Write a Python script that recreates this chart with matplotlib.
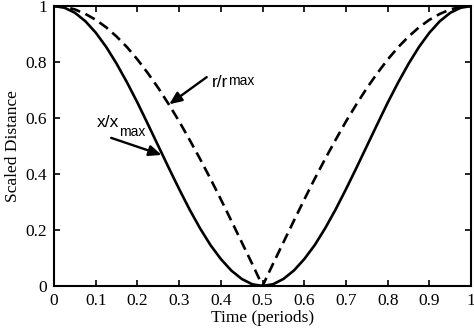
import matplotlib
matplotlib.use('Agg')
import matplotlib.pyplot as plt

# time in periods
t = [0.0, 0.025, 0.05, 0.075, 0.1, 0.125, 0.15, 0.175, 0.2, 0.225, 0.25,
     0.275, 0.3, 0.325, 0.35, 0.375, 0.4, 0.425, 0.45, 0.475, 0.5,
     0.525, 0.55, 0.575, 0.6, 0.625, 0.65, 0.675, 0.7, 0.725, 0.75,
     0.775, 0.8, 0.825, 0.85, 0.875, 0.9, 0.925, 0.95, 0.975, 1.0]

# x/xmax (solid)
x_scaled = [1.0, 0.994, 0.976, 0.946, 0.905, 0.854, 0.794, 0.727, 0.655, 0.578, 0.5,
            0.422, 0.346, 0.273, 0.206, 0.146, 0.096, 0.055, 0.025, 0.006, 0.0,
            0.006, 0.025, 0.055, 0.096, 0.146, 0.206, 0.273, 0.346, 0.422, 0.5,
            0.578, 0.655, 0.727, 0.794, 0.854, 0.905, 0.946, 0.976, 0.994, 1.0]

# r/rmax (dashed)
r_scaled = [1.0, 0.997, 0.988, 0.972, 0.951, 0.924, 0.891, 0.853, 0.809, 0.760, 0.707,
            0.649, 0.588, 0.522, 0.454, 0.383, 0.309, 0.233, 0.156, 0.079, 0.0,
            0.079, 0.156, 0.233, 0.309, 0.383, 0.454, 0.522, 0.588, 0.649, 0.707,
            0.760, 0.809, 0.853, 0.891, 0.924, 0.951, 0.972, 0.988, 0.997, 1.0]

xticks = [0, 0.1, 0.2, 0.3, 0.4, 0.5, 0.6, 0.7, 0.8, 0.9, 1]
xticklabels = ['0', '0.1', '0.2', '0.3', '0.4', '0.5', '0.6', '0.7', '0.8', '0.9', '1']
yticks = [0, 0.2, 0.4, 0.6, 0.8, 1]
yticklabels = ['0', '0.2', '0.4', '0.6', '0.8', '1']

fig = plt.figure(figsize=(4.74, 3.36), dpi=100)
ax = fig.add_axes([0.114, 0.149, 0.880, 0.833])

ax.plot(t, x_scaled, color='black', lw=1.9, solid_capstyle='butt')
ax.plot(t, r_scaled, color='black', lw=1.9, linestyle=(0, (4, 2.2)))

ax.set_xlim(0, 1)
ax.set_ylim(0, 1)
ax.set_xticks(xticks)
ax.set_xticklabels(xticklabels)
ax.set_yticks(yticks)
ax.set_yticklabels(yticklabels)

serif = 'Liberation Serif'
sans = 'Liberation Sans'
for lab in ax.get_xticklabels() + ax.get_yticklabels():
    lab.set_family(serif)
    lab.set_fontsize(12.5)

ax.tick_params(direction='in', length=4, width=1.2, top=True, right=True, pad=5)
for s in ax.spines.values():
    s.set_linewidth(1.5)

ax.set_xlabel('Time (periods)', family=serif, fontsize=12.5, labelpad=1)
ax.set_ylabel('Scaled Distance', family=serif, fontsize=12.5, labelpad=3)

# annotations
arrow = dict(arrowstyle='-|>,head_length=0.75,head_width=0.32', color='black', lw=1.7,
             shrinkA=0, shrinkB=0)
ax.annotate('', xy=(0.276, 0.649), xytext=(0.366, 0.746), arrowprops=arrow)
ax.annotate('', xy=(0.258, 0.468), xytext=(0.137, 0.529), arrowprops=arrow)

ax.text(0.378, 0.71, 'r/r', family=sans, fontsize=12.5, ha='left', va='baseline')
ax.text(0.418, 0.718, 'max', family=sans, fontsize=10, ha='left', va='baseline')
ax.text(0.103, 0.567, 'x/x', family=sans, fontsize=12.5, ha='left', va='baseline')
ax.text(0.157, 0.536, 'max', family=sans, fontsize=10, ha='left', va='baseline')

fig.savefig('out.png', dpi=100)
